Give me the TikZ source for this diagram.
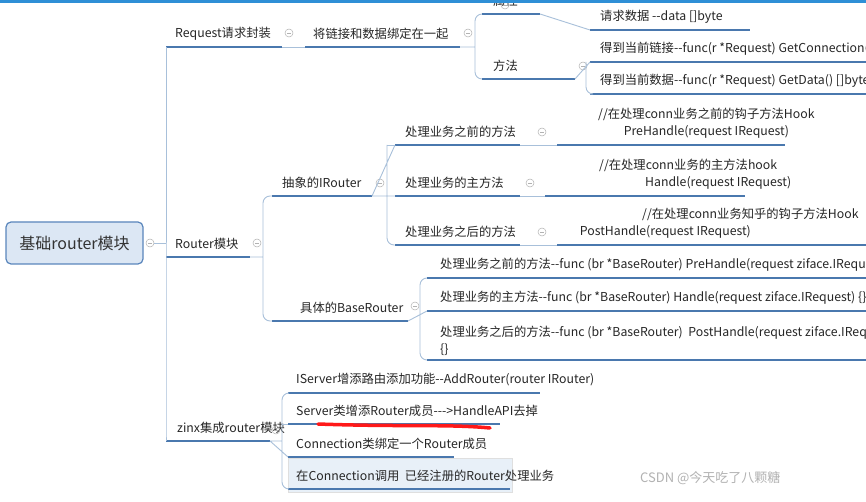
\documentclass[tikz,border=0pt]{standalone}
\usepackage{fontspec}
\setmainfont{Noto Sans CJK SC}
\definecolor{ulc}{HTML}{4A78AE}
\definecolor{brc}{HTML}{A8C0DA}
\definecolor{rootf}{HTML}{DCE7F4}
\definecolor{rootd}{HTML}{5A86BC}
\definecolor{topc}{HTML}{2F8FD6}
\definecolor{zbg}{HTML}{E8F0F8}
\begin{document}
\begin{tikzpicture}[x=1pt,y=-1pt,
  lbl/.style={anchor=west,inner sep=0pt,font=\fontsize{12.3}{17}\selectfont,text=black!85},
  ul/.style={draw=ulc,line width=2.4pt},
  br/.style={draw=brc,line width=0.9pt,rounded corners=7pt},
  col/.style={circle,draw=gray!60,inner sep=0pt,minimum size=8pt,line width=0.5pt,
    path picture={\draw[gray!60,line width=0.5pt] ([xshift=-2pt]path picture bounding box.center) -- ([xshift=2pt]path picture bounding box.center);}},
]
\newcommand\mmitem[6]{\node[lbl] (#1) at (#5,#4-13) {#6};
  \draw[ul] (#2,#4) coordinate (#1-l) -- (#3,#4) coordinate (#1-r);}
\newcommand\mmleaf[6]{\node[lbl,anchor=south west,align=center] (#1) at (#5,#4-6) {#6};
  \draw[ul] (#2,#4) coordinate (#1-l) -- (#3,#4) coordinate (#1-r);}
\path[use as bounding box] (0,0) rectangle (866,502);
\clip (0,0) rectangle (866,502);
\fill[white] (0,0) rectangle (866,502);
% root
\node[draw=rootd,fill=rootf,rounded corners=5pt,line width=1.2pt,minimum width=137pt,minimum height=42pt,font=\fontsize{16}{18}\selectfont,text=black!80] (root) at (74.5,243) {基础router模块};
\node[col] (c0) at (150,243) {};
% level 1
\mmitem{req}{166}{282}{47}{175}{Request请求封装}
\mmitem{rt}{166}{250}{257}{175}{Router模块}
\mmitem{zx}{166}{270}{441}{177}{zinx集成router模块}
\draw[br] (c0.east) -- (166,243) (req-l) -- (166,441) -- (zx-l);
\node[col] (c1) at (289,33) {};
\node[col] (c2) at (257,243) {};
\node[col] (c3) at (276,430) {};
% request
\mmitem{bind}{305}{460}{47}{313}{将链接和数据绑定在一起}
\draw[br] (req-r) -- (bind-l);
\node[col] (c4) at (468,33) {};
\mmitem{attr}{482}{540}{14}{493}{属性}
\mmitem{meth}{482}{575}{79}{493}{方法}
\draw[br] (bind-r) -- (475,47) (attr-l) -- (475,14) -- (475,79) -- (meth-l);
\node[col] (c5) at (505,5) {};
\node[col] (c6) at (583,66) {};
\mmitem{data}{590}{750}{30}{600}{请求数据 -{}-data []byte}
\mmitem{gc}{590}{866}{62}{600}{得到当前链接-{}-func(r *Request) GetConnection()}
\mmitem{gd}{590}{866}{94}{600}{得到当前数据-{}-func(r *Request) GetData() []byte}
\draw[br] (attr-r) -- (data-l);
\draw[br] (meth-r) -- (590,62);
\draw[br] (586,62) |- (gd-l);
% router
\mmitem{ir}{272}{372}{196}{282}{抽象的IRouter}
\mmitem{br}{272}{408}{321}{300}{具体的BaseRouter}
\draw[br] (rt-r) -- (263,257) (ir-l) -- (263,196) -- (263,321) -- (br-l);
\node[col] (c7) at (380,183) {};
\node[col] (c8) at (415,306) {};
\mmitem{pre}{395}{520}{145}{405}{处理业务之前的方法}
\mmitem{mid}{395}{520}{196}{405}{处理业务的主方法}
\mmitem{post}{395}{520}{245}{405}{处理业务之后的方法}
\draw[br] (ir-r) -- (pre-l) (387,145) -- (387,245) -- (post-l) (ir-r) -- (mid-l);
\draw[br] (pre-l) -- (387,145);
\node[col] (c9) at (542,132) {};
\node[col] (c10) at (530,183) {};
\node[col] (c11) at (542,232) {};
\mmleaf{h1}{557}{785}{145}{598}{//在处理conn业务之前的钩子方法Hook\\PreHandle(request IRequest)}
\mmleaf{h2}{545}{745}{196}{585}{//在处理conn业务的主方法hook\\\hspace*{60pt}Handle(request IRequest)}
\mmleaf{h3}{557}{866}{245}{572}{\hspace*{70pt}//在处理conn业务知乎的钩子方法Hook\\PostHandle(request IRequest)\hspace*{100pt}}
\draw[br] (pre-r) -- (h1-l) (mid-r) -- (h2-l) (post-r) -- (h3-l);
\mmitem{b1}{427}{866}{278}{440}{处理业务之前的方法-{}-func (br *BaseRouter) PreHandle(request ziface.IRequest) \{\}}
\mmitem{b2}{427}{866}{311}{440}{处理业务的主方法-{}-func (br *BaseRouter) Handle(request ziface.IRequest) \{\}}
\node[lbl,anchor=south west,align=left] (b3) at (440,356) {处理业务之后的方法-{}-func (br *BaseRouter)\ \ PostHandle(request ziface.IRequest)\\\{\}};
\draw[ul] (427,360) coordinate (b3-l) -- (866,360);
\draw[br] (br-r) -- (b2-l) (b1-l) -- (420,278) -- (420,360) -- (b3-l);
% zinx
\fill[zbg] (288,458) rectangle (512,492);
\draw[gray!25] (288,458) rectangle (512,492);
\mmitem{z1}{288}{540}{393}{296}{IServer增添路由添加功能-{}-AddRouter(router IRouter)}
\mmitem{z2}{288}{500}{424}{296}{Server类增添Router成员-{}-{}->HandleAPI去掉}
\mmitem{z3}{288}{454}{457}{296}{Connection类绑定一个Router成员}
\mmitem{z4}{288}{510}{489}{296}{在Connection调用\ \ 已经注册的Router处理业务}
\draw[br] (zx-r) -- (z3-l) (z1-l) -- (282,393) -- (282,489) -- (z4-l) (zx-r) -- (282,441);
\draw[br] (282,424) -- (z2-l);
\draw[red!90,line width=3.5pt,line cap=round] (318,424) .. controls (400,427) and (450,424) .. (490,428);
\node[lbl,text=gray!60,font=\fontsize{13}{15}\selectfont] (wm) at (640,478) {CSDN @今天吃了八颗糖};
\draw[draw=topc,line width=3pt] (0,2) -- (866,2);
\end{tikzpicture}
\end{document}
